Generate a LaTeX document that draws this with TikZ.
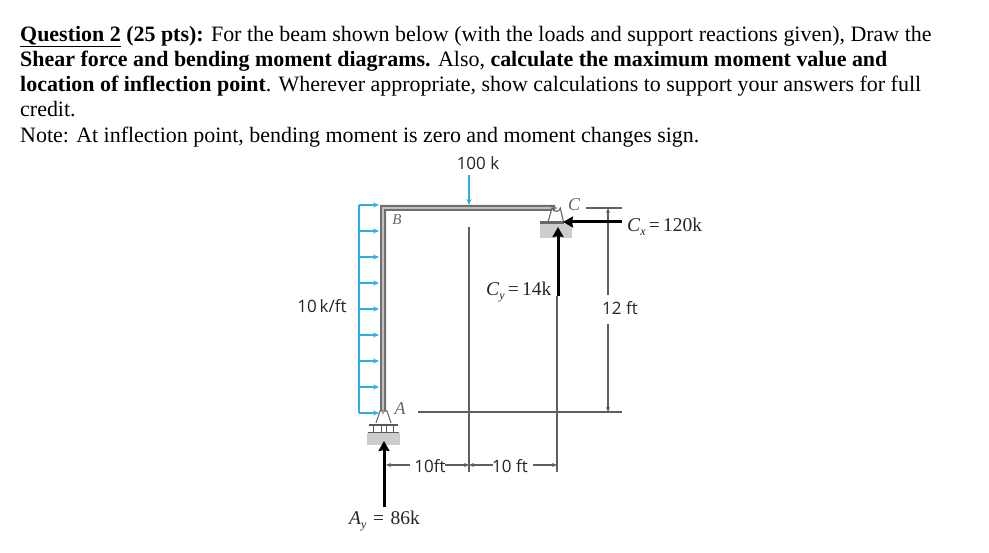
\documentclass[tikz,border=0pt]{standalone}
\usepackage{fontspec}
\setmainfont{Liberation Serif}
\newfontfamily\lblfont{Open Sans}
\usetikzlibrary{arrows.meta}
\definecolor{loadc}{RGB}{45,175,230}
\definecolor{beamg}{RGB}{110,110,110}
\definecolor{dimg}{RGB}{95,95,95}
\definecolor{baseg}{RGB}{205,205,205}
\tikzset{
 x=1pt,y=-1pt,
 para/.style={anchor=base west,inner sep=0pt,font=\fontsize{21.95}{24}\selectfont,text=black},
 sanslbl/.style={inner sep=0pt,font=\lblfont\fontsize{17}{20}\selectfont,text=black!85},
 serlbl/.style={inner sep=0pt,font=\fontsize{19.5}{22}\selectfont,text=black!85},
 ptlbl/.style={inner sep=0pt,font=\itshape\fontsize{18}{20}\selectfont,text=black!60},
 loadarrow/.style={draw=loadc,line width=1.4pt,-{Stealth[length=6pt,width=5pt]}},
 loadline/.style={draw=loadc,line width=1.4pt},
 reaction/.style={draw=black,line width=3pt,-{Stealth[length=10pt,width=11pt,inset=1pt]}},
 dimline/.style={draw=dimg,line width=1.2pt},
 dimarrow/.style={draw=dimg,line width=1.1pt,-{Stealth[length=5pt,width=4pt]}},
 beamfill/.style={fill=beamg,draw=none},
 supportline/.style={draw=black!60,line width=1.1pt,fill=white},
}
\begin{document}
\begin{tikzpicture}
\useasboundingbox (0,0) rectangle (989,553);
\fill[white] (0,0) rectangle (989,553);
% text
\node[para] (l1) at (20,41.5) {\textbf{\underline{Question 2} (25 pts):} For the beam shown below (with the loads and support reactions given), Draw the};
\node[para] (l2) at (20,66.5) {\textbf{Shear force and bending moment diagrams.} Also, \textbf{calculate the maximum moment value and}};
\node[para] (l3) at (20,91.5) {\textbf{location of inflection point}. Wherever appropriate, show calculations to support your answers for full};
\node[para] (l4) at (20,116.5) {credit.};
\node[para] (l5) at (20,142.5) {Note: At inflection point, bending moment is zero and moment changes sign.};
% gray bases
\fill[baseg] (540,224) rectangle (572,238);
\fill[baseg] (367,433) rectangle (400,445);
% frame
\fill[beamfill] (380,205) -- (555,205) -- (555,211) -- (386,211) -- (386,411) -- (380,411) -- cycle;
\draw[black!25,line width=2.2pt] (383,411) -- (383,208) -- (553,208);
% load
\coordinate (lt) at (359,205);
\coordinate (lb) at (359,413);
\draw[loadline] (lt) -- (lb);
\foreach \y/\n in {205/a,231/b,257/c,283/d,309/e,335/f,361/g,387/h,413/i}{
  \coordinate (ls\n) at (359,\y);
  \coordinate (le\n) at (379,\y);
  \draw[loadarrow] (ls\n) -- (le\n);
}
\node[sanslbl] (w) at (322,306) {10\,k/ft};
% top load
\node[sanslbl] (p) at (478,163) {100 k};
\coordinate (ps) at (469,175);
\coordinate (pe) at (469,205);
\draw[loadarrow] (ps) -- (pe);
% support C
\draw[supportline] (548,222) -- (552,208) arc (170:10:4.2) -- (563.5,222);
\fill[black!70] (556,208) circle (0.8);
\fill[black!60] (540,221.5) rectangle (564,224.5);
% support A
\draw[supportline] (376,423) -- (380,411) -- (387,411) -- (391,423);
\fill[black!70] (383,413) circle (0.8);
\draw[black!65,line width=2pt] (369,425) -- (398,425);
\draw[black!65,line width=1.8pt] (368,432.5) -- (399,432.5);
\foreach \x in {373,381,386,393}{\draw[black!65,line width=1pt] (\x,426) -- (\x,432);}
% dimension lines
\coordinate (v1t) at (469,227);
\coordinate (v1b) at (469,472);
\coordinate (v2t) at (557,296);
\coordinate (v2b) at (557,472);
\coordinate (h1) at (418,412);
\coordinate (h2) at (622,412);
\coordinate (ct1) at (586,208);
\coordinate (ct2) at (622,208);
\coordinate (vt) at (608,208);
\coordinate (vb) at (608,412);
\coordinate (vs1) at (608,295);
\coordinate (vs2) at (608,324);
\draw[dimline] (v1t) -- (v1b);
\draw[dimline] (v2t) -- (v2b);
\draw[dimline] (h1) -- (h2);
\draw[dimline] (ct1) -- (ct2);
\node[sanslbl] (d12) at (620,308) {12 ft};
\draw[dimarrow] (vs1) -- (vt);
\draw[dimarrow] (vs2) -- (vb);
\node[sanslbl] (d10a) at (430,466) {10ft};
\node[sanslbl] (d10b) at (510,466) {10 ft};
\coordinate (a0) at (386,465);
\coordinate (a1) at (410,465);
\coordinate (a2) at (445,465);
\coordinate (a3) at (469,465);
\coordinate (a4) at (493,465);
\coordinate (a5) at (533,465);
\coordinate (a6) at (557,465);
\draw[dimarrow] (a1) -- (a0);
\draw[dimarrow] (a2) -- (a3);
\draw[dimarrow] (a4) -- (a3);
\draw[dimarrow] (a5) -- (a6);
% reactions
\coordinate (cxs) at (622,222);
\coordinate (cxe) at (563,222);
\coordinate (cys) at (558,296);
\coordinate (cye) at (558,227);
\coordinate (ays) at (384,507);
\coordinate (aye) at (384,441);
\draw[reaction] (cxs) -- (cxe);
\draw[reaction] (cys) -- (cye);
\draw[reaction] (ays) -- (aye);
% labels
\node[ptlbl] (C) at (574,205) {C};
\node[ptlbl,font=\itshape\fontsize{15}{16}\selectfont] (B) at (397,220) {B};
\node[ptlbl] (A) at (400,409) {A};
\node[serlbl,anchor=base west] (cx) at (627,232) {\textit{C}\raisebox{-4pt}{\fontsize{12}{12}\selectfont\textit{x}}\,=\,120k};
\node[serlbl,anchor=base west] (cy) at (486,296) {\textit{C}\raisebox{-4pt}{\fontsize{12}{12}\selectfont\textit{y}}\,=\,14k};
\node[serlbl,anchor=base west] (ay) at (349,525) {\textit{A}\raisebox{-4pt}{\fontsize{12}{12}\selectfont\textit{y}}\,\,=\,\,86k};
\end{tikzpicture}
\end{document}
